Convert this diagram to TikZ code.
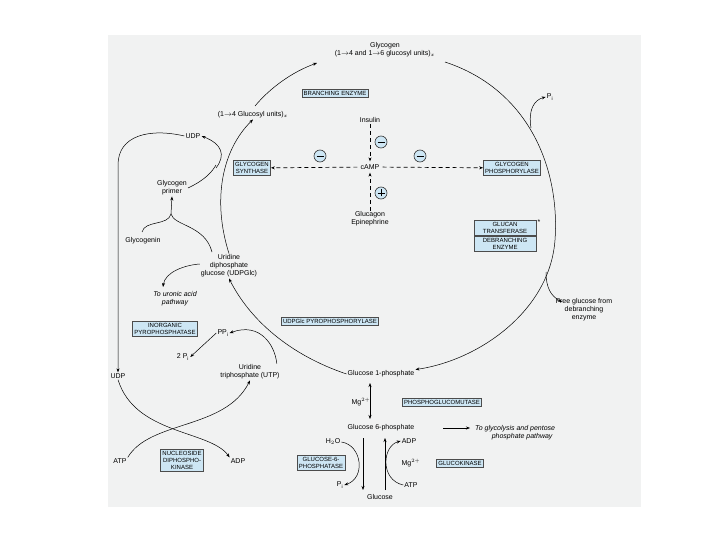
\documentclass[tikz,border=0pt]{standalone}
\usepackage{fontspec}
\setmainfont{Liberation Sans}
\usetikzlibrary{arrows.meta}
\definecolor{bg}{HTML}{F1F2F2}
\definecolor{bx}{HTML}{CDE6F4}
\begin{document}
\begin{tikzpicture}[x=1pt,y=-1pt,
 t/.style={font=\fontsize{7}{8}\selectfont,align=center,inner sep=1pt},
 it/.style={t,font=\fontsize{7}{8}\selectfont\itshape},
 enz/.style={draw=black!70,fill=bx,font=\fontsize{6}{7}\selectfont,align=center,inner sep=1.8pt,line width=0.6pt},
 sg/.style={circle,draw=black!80,fill=bx,inner sep=0pt,minimum size=12pt,line width=0.6pt},
 ar/.style={-{Stealth[length=4pt,width=3pt]},line width=0.5pt},
 da/.style={ar,dash pattern=on 4pt off 3pt,line width=0.7pt}]
\useasboundingbox (0,0) rectangle (720,540);
\fill[bg] (108,35) rectangle (641,507);
% nodes
\node[t] (gly) at (385,50) {Glycogen\\(1$\rightarrow$4 and 1$\rightarrow$6 glucosyl units)$_x$};
\node[enz] (be) at (335,93) {BRANCHING ENZYME};
\node[t] (pi1) at (550,97) {P$_\mathrm{i}$};
\node[t] (g14) at (253,115) {(1$\rightarrow$4 Glucosyl units)$_x$};
\node[t] (ins) at (370,120) {Insulin};
\node[t] (udp1) at (193,136) {UDP};
\node[sg] (m1) at (381,142) {};
\node[sg] (m2) at (320,156) {};
\node[sg] (m3) at (420,156) {};
\node[sg] (p1) at (381,193) {};
\foreach \s in {m1,m2,m3,p1} \draw[line width=0.8pt] ([xshift=-3.5pt]\s.center) -- ([xshift=3.5pt]\s.center);
\draw[line width=0.8pt] ([yshift=-3.5pt]p1.center) -- ([yshift=3.5pt]p1.center);
\node[enz] (gs) at (252,168) {GLYCOGEN\\SYNTHASE};
\node[t,inner sep=3pt] (camp) at (370,167) {cAMP};
\node[enz] (gp) at (512,168) {GLYCOGEN\\PHOSPHORYLASE};
\node[t] (gpr) at (172,188) {Glycogen\\primer};
\node[t] (glu) at (370,219) {Glucagon\\Epinephrine};
\node[enz,minimum width=62pt] (gt) at (505,228) {GLUCAN\\TRANSFERASE};
\node[enz,minimum width=62pt,anchor=north] (de) at (gt.south) {DEBRANCHING\\ENZYME};
\node[t] (ast) at (539,222) {*};
\node[t] (gln) at (143,241) {Glycogenin};
\node[t] (udpg) at (229,266) {Uridine\\diphosphate\\glucose (UDPGlc)};
\node[it] (uro) at (175,299) {To uronic acid\\pathway};
\node[t] (free) at (584,310) {Free glucose from\\debranching\\enzyme};
\node[enz] (ipp) at (165,329) {INORGANIC\\PYROPHOSPHATASE};
\node[enz] (upp) at (330,321) {UDPGlc PYROPHOSPHORYLASE};
\node[t] (ppi) at (223,333) {PP$_\mathrm{i}$};
\node[t] (pi2) at (183,357) {2 P$_\mathrm{i}$};
\node[t] (udp2) at (118,376) {UDP};
\node[t] (utp) at (250,372) {Uridine\\triphosphate (UTP)};
\node[t] (g1p) at (381,374) {Glucose 1-phosphate};
\node[t] (mg1) at (361,402) {Mg$^{2+}$};
\node[enz] (pgm) at (442,402) {PHOSPHOGLUCOMUTASE};
\node[t] (g6p) at (381,428) {Glucose 6-phosphate};
\coordinate (ga) at (443,428);
\coordinate (fg) at (562,302);
\node[it,anchor=west] (gly2) at (474,433) {To glycolysis and pentose\\\hspace*{14pt}phosphate pathway};
\node[t] (h2o) at (333,442) {H$_2$O};
\node[t] (adp1) at (409,441) {ADP};
\node[enz] (g6pase) at (321,463) {GLUCOSE-6-\\PHOSPHATASE};
\node[t] (mg2) at (411,463) {Mg$^{2+}$};
\node[enz] (gk) at (460,463) {GLUCOKINASE};
\node[t] (pi3) at (340,485) {P$_\mathrm{i}$};
\node[t] (atp1) at (411,485) {ATP};
\node[t] (glc) at (380,497) {Glucose};
\node[enz] (ndk) at (182,460) {NUCLEOSIDE\\DIPHOSPHO-\\KINASE};
\node[t] (atp2) at (120,461) {ATP};
\node[t] (adp2) at (238,461) {ADP};
% regulation
\draw[da] (ins) -- (camp);
\draw[da] (glu) -- (camp);
\draw[da] (camp) -- (gs);
\draw[da] (camp) -- (gp);
% big cycle
\draw[ar] (445,62) .. controls (530,90) and (560,170) .. (555,240) .. controls (550,310) and (480,360) .. (g1p.north east);
\draw[ar] (531,128) .. controls (528,110) and (534,100) .. (pi1.west);
\draw[ar] (546,272) .. controls (546,288) and (551,296) .. (fg);
\draw[ar] (g1p.west) .. controls (290,355) and (250,320) .. (udpg.south);
\draw[ar] (udpg.north) .. controls (212,200) and (222,150) .. (g14.south);
\draw[ar] (255,106) .. controls (270,88) and (292,72) .. (317,63);
\draw[line width=0.5pt] (gpr.east) .. controls (205,180) and (212,172) .. (216,165);
\draw[ar] (216,168) .. controls (226,155) and (222,144) .. (udp1.east);
\draw[ar] (udp1.west) .. controls (150,128) and (118,135) .. (118,165) -- (udp2.north);
% glycogenin brace
\draw[line width=0.5pt] (142,232) .. controls (145,220) and (168,226) .. (171,214) .. controls (174,226) and (205,225) .. (212,252);
\draw[ar] (171,214) -- (gpr.south);
\draw[ar] (udpg.west) ++(0,-2) .. controls (185,265) and (165,272) .. (163,287);
\draw[ar] (utp.north east) ++(-4,0) .. controls (275,345) and (260,322) .. (ppi.east);
\draw[ar] (ppi.west) -- (pi2.east);
\draw[ar] (udp2.south) .. controls (135,435) and (210,430) .. (adp2.north west);
\draw[ar] (atp2.north east) .. controls (150,420) and (225,430) .. (utp.south);
\draw[{Stealth[length=4pt,width=3pt]}-{Stealth[length=4pt,width=3pt]},line width=0.5pt] (370,383) -- (370,419);
\draw[ar] (ga) -- (470,428);
\draw[ar] (363,438) -- (363,490);
\draw[ar] (385,490) -- (385,438);
\draw[ar] (h2o.east) .. controls (362,445) and (366,478) .. (pi3.east);
\draw[ar] (atp1.west) .. controls (380,480) and (382,446) .. (adp1.west);
\end{tikzpicture}
\end{document}
